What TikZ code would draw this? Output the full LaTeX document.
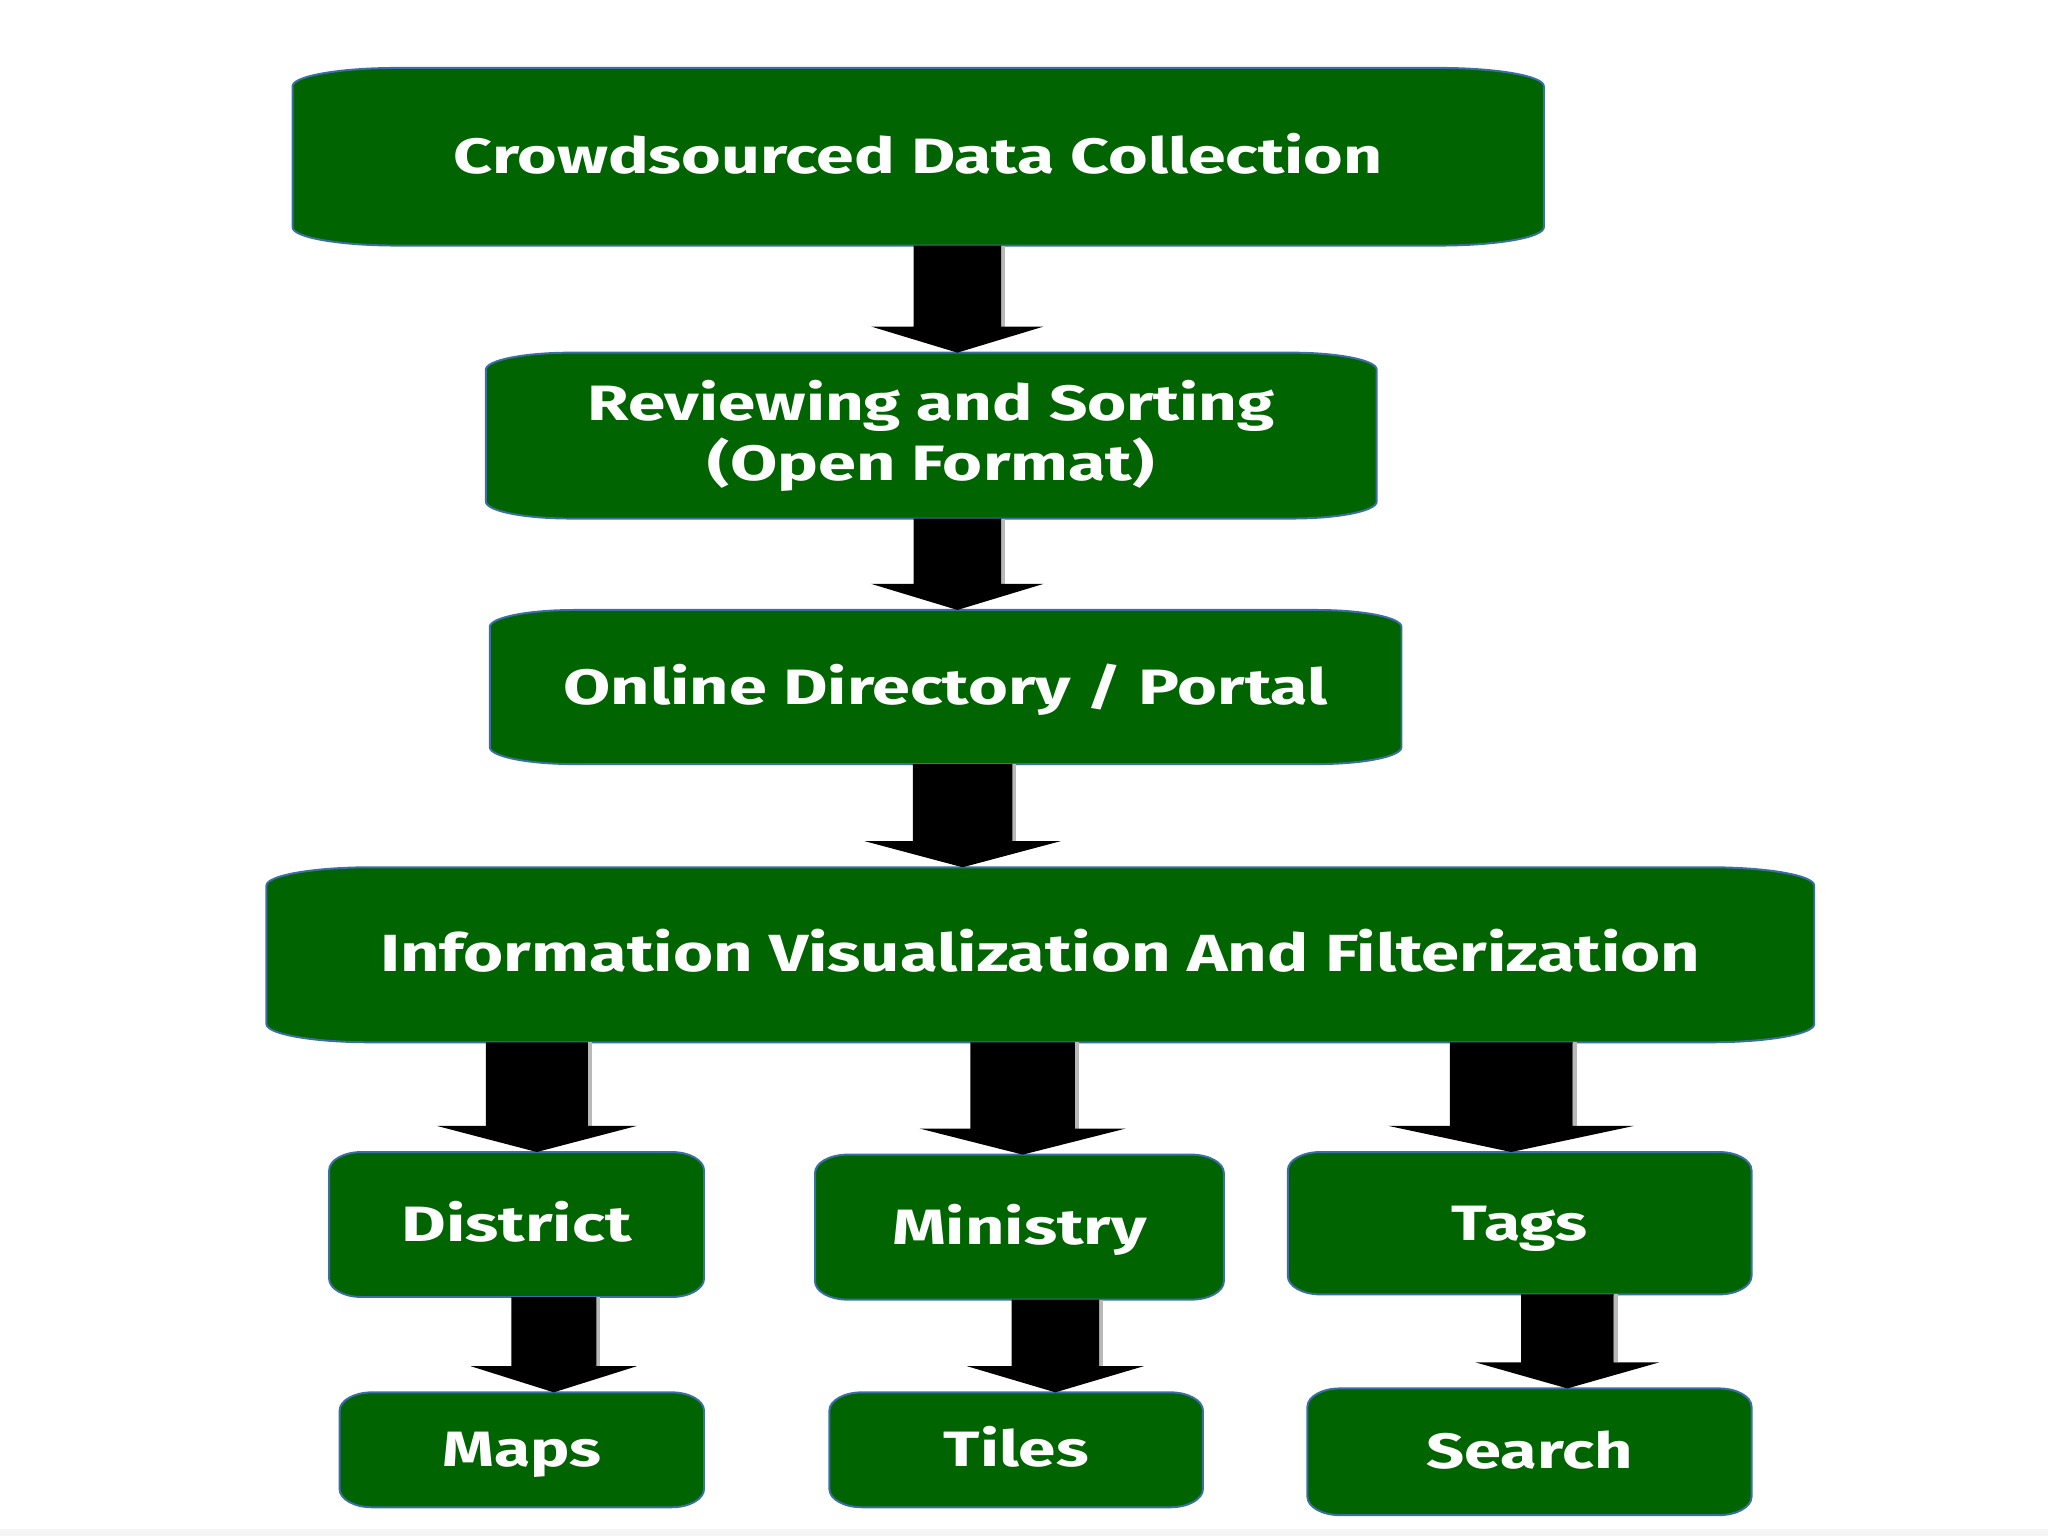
\documentclass[tikz,border=0pt]{standalone}
\usepackage{graphicx}
\usepackage{fontspec}
\setmainfont{Fira Sans}
\usetikzlibrary{calc}
\pgfdeclarelayer{background}
\pgfsetlayers{background,main}
\definecolor{boxgreen}{RGB}{0,100,0}
\definecolor{boxedge}{RGB}{58,110,165}
\newsavebox\fitbox
\newcommand\fitx[2]{\sbox\fitbox{#2}\pgfmathsetmacro\fitfac{#1/\the\wd\fitbox}\scalebox{\fitfac}[1]{\usebox\fitbox}}
\newcommand\eshape[3]{%
 \begin{pgfonlayer}{background}
 \path[boxshape] ([xshift=#2pt]#1.north west) -- ([xshift=-#2pt]#1.north east)
  .. controls ([xshift=-0.4477*#2pt]#1.north east) and ([yshift=-0.4477*#3pt]#1.north east) .. ([yshift=-#3pt]#1.north east)
  -- ([yshift=#3pt]#1.south east)
  .. controls ([yshift=0.4477*#3pt]#1.south east) and ([xshift=-0.4477*#2pt]#1.south east) .. ([xshift=-#2pt]#1.south east)
  -- ([xshift=#2pt]#1.south west)
  .. controls ([xshift=0.4477*#2pt]#1.south west) and ([yshift=0.4477*#3pt]#1.south west) .. ([yshift=#3pt]#1.south west)
  -- ([yshift=-#3pt]#1.north west)
  .. controls ([yshift=-0.4477*#3pt]#1.north west) and ([xshift=0.4477*#2pt]#1.north west) .. ([xshift=#2pt]#1.north west)
  -- cycle;
 \end{pgfonlayer}}
% block arrow: from, to, tip xshift rel. to target north, half shaft, half head
\newcommand\barrow[5]{%
 \fill[arrowshadow] let \p1=([xshift=#3pt]#2.north), \p2=(#1.south) in
   (\x1+#4pt,\y2) rectangle (\x1+#4pt+3pt,\y1+20pt);
 \fill[arrowfill] let \p1=([xshift=#3pt]#2.north), \p2=(#1.south) in
   (\x1-#4pt,\y2) -- (\x1+#4pt,\y2) -- (\x1+#4pt,\y1+20pt) -- (\x1+#5pt,\y1+20pt)
   -- (\x1,\y1) -- (\x1-#5pt,\y1+20pt) -- (\x1-#4pt,\y1+20pt) -- cycle;}
\tikzset{
 boxshape/.style={fill=boxgreen, draw=boxedge, line width=1.5pt},
 box/.style={inner sep=0pt, outer sep=0pt, text=white,
   font=\fontsize{38}{46}\selectfont\bfseries},
 oneline/.style={text height=26pt, text depth=0pt},
 arrowfill/.style={fill=black},
 arrowshadow/.style={fill=gray!55}
}
\begin{document}
\begin{tikzpicture}[x=1pt,y=-1pt]
\useasboundingbox (0,0) rectangle (1568,1176);
\fill[gray!8] (0,1171) rectangle (1568,1176);

\node[box, oneline, minimum width=958pt, minimum height=136pt] (b1) at (703,120)
  {\fitx{711}{Crowdsourced Data Collection}};
\node[box, align=center, minimum width=682pt, minimum height=127pt] (b2) at (713,333.5)
  {\fitx{526}{Reviewing and Sorting}\\\fitx{342}{(Open Format)}};
\node[box, oneline, minimum width=698pt, minimum height=118pt] (b3) at (724,526)
  {\fitx{585}{Online Directory / Portal}};
\node[box, oneline, font=\fontsize{40}{46}\selectfont\bfseries, minimum width=1185pt, minimum height=134pt] (b4) at (796.5,731)
  {\fitx{1011}{Information Visualization And Filterization}};

\node[box, oneline, minimum width=287pt, minimum height=111pt] (district) at (395.5,937.5)
  {\fitx{176}{District}};
\node[box, oneline, minimum width=313pt, minimum height=111pt] (ministry) at (780.5,939.5)
  {\fitx{195}{Ministry}};
\node[box, oneline, minimum width=355pt, minimum height=109pt] (tags) at (1163.5,936.5)
  {\fitx{104}{Tags}};

\node[box, oneline, minimum width=279pt, minimum height=88pt] (maps) at (399.5,1110)
  {\fitx{122}{Maps}};
\node[box, oneline, minimum width=286pt, minimum height=88pt] (tiles) at (778,1110)
  {\fitx{111}{Tiles}};
\node[box, oneline, minimum width=340pt, minimum height=97pt] (search) at (1171,1111.5)
  {\fitx{158}{Search}};

\eshape{b1}{80}{14}
\eshape{b2}{65}{13}
\eshape{b3}{65}{13}
\eshape{b4}{80}{14}
\eshape{district}{25}{14}
\eshape{ministry}{25}{14}
\eshape{tags}{25}{14}
\eshape{maps}{25}{14}
\eshape{tiles}{25}{14}
\eshape{search}{25}{14}

\barrow{b1}{b2}{20}{33.5}{66}
\barrow{b2}{b3}{9}{33.5}{66}
\barrow{b3}{b4}{-59.5}{38}{75}
\barrow{b4}{district}{15.5}{39}{76.5}
\barrow{b4}{ministry}{2.5}{40}{79}
\barrow{b4}{tags}{-6.5}{47}{94}
\barrow{district}{maps}{24.5}{32.5}{63.5}
\barrow{ministry}{tiles}{30}{33.5}{67.5}
\barrow{tags}{search}{29}{35.5}{70.5}
\end{tikzpicture}
\end{document}
